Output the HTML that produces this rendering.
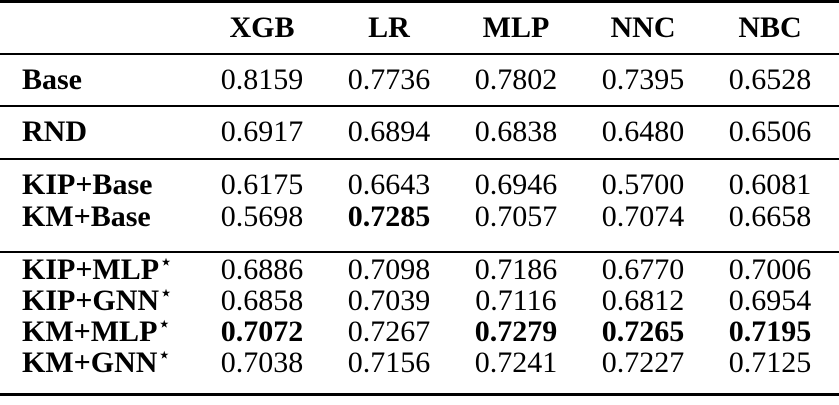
<!DOCTYPE html>
<html><head><style>html,body{margin:0;padding:0;background:#fff}svg{display:block}</style></head>
<body>
<svg width="839" height="405" xmlns="http://www.w3.org/2000/svg" font-family="Liberation Serif, serif" font-size="30" fill="#000">
<rect x="0" y="0" width="839" height="3" fill="#000"/>
<rect x="0" y="53" width="839" height="2" fill="#000"/>
<rect x="0" y="105" width="839" height="2" fill="#000"/>
<rect x="0" y="158" width="839" height="2" fill="#000"/>
<rect x="0" y="251" width="839" height="2" fill="#000"/>
<rect x="0" y="393" width="839" height="3" fill="#000"/>
<g font-weight="bold" text-anchor="middle">
<text x="262" y="37">XGB</text><text x="389" y="37">LR</text><text x="516" y="37">MLP</text><text x="643" y="37">NNC</text><text x="770" y="37">NBC</text>
</g>
<g font-weight="bold">
<text x="22" y="89">Base</text>
<text x="22" y="141">RND</text>
<text x="22" y="194">KIP+Base</text>
<text x="22" y="226">KM+Base</text>
<text x="22" y="279">KIP+MLP<tspan font-size="22" font-weight="normal" dy="-10">⋆</tspan></text>
<text x="22" y="310">KIP+GNN<tspan font-size="22" font-weight="normal" dy="-10">⋆</tspan></text>
<text x="22" y="341">KM+MLP<tspan font-size="22" font-weight="normal" dy="-10">⋆</tspan></text>
<text x="22" y="372">KM+GNN<tspan font-size="22" font-weight="normal" dy="-10">⋆</tspan></text>
</g>
<g text-anchor="middle">
<text y="89"><tspan x="262">0.8159</tspan><tspan x="389">0.7736</tspan><tspan x="516">0.7802</tspan><tspan x="643">0.7395</tspan><tspan x="770">0.6528</tspan></text>
<text y="141"><tspan x="262">0.6917</tspan><tspan x="389">0.6894</tspan><tspan x="516">0.6838</tspan><tspan x="643">0.6480</tspan><tspan x="770">0.6506</tspan></text>
<text y="194"><tspan x="262">0.6175</tspan><tspan x="389">0.6643</tspan><tspan x="516">0.6946</tspan><tspan x="643">0.5700</tspan><tspan x="770">0.6081</tspan></text>
<text y="226"><tspan x="262">0.5698</tspan><tspan x="389" font-weight="bold">0.7285</tspan><tspan x="516">0.7057</tspan><tspan x="643">0.7074</tspan><tspan x="770">0.6658</tspan></text>
<text y="279"><tspan x="262">0.6886</tspan><tspan x="389">0.7098</tspan><tspan x="516">0.7186</tspan><tspan x="643">0.6770</tspan><tspan x="770">0.7006</tspan></text>
<text y="310"><tspan x="262">0.6858</tspan><tspan x="389">0.7039</tspan><tspan x="516">0.7116</tspan><tspan x="643">0.6812</tspan><tspan x="770">0.6954</tspan></text>
<text y="341"><tspan x="262" font-weight="bold">0.7072</tspan><tspan x="389">0.7267</tspan><tspan x="516" font-weight="bold">0.7279</tspan><tspan x="643" font-weight="bold">0.7265</tspan><tspan x="770" font-weight="bold">0.7195</tspan></text>
<text y="372"><tspan x="262">0.7038</tspan><tspan x="389">0.7156</tspan><tspan x="516">0.7241</tspan><tspan x="643">0.7227</tspan><tspan x="770">0.7125</tspan></text>
</g>
</svg>
</body></html>
